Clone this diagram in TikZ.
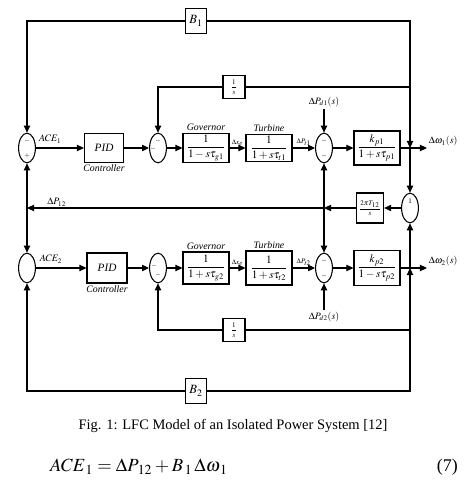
\documentclass[tikz,border=0pt]{standalone}
\usepackage{amsmath}
\usepackage{mathptmx}
\usepackage[no-math]{fontspec}
\setmainfont{Liberation Serif}
\usetikzlibrary{shapes.geometric, calc, arrows.meta, positioning}
\tikzset{
        block/.style = {draw, rectangle, font=\footnotesize,
            inner sep=1pt,
            minimum height=0.65cm,
            minimum width=1.15cm},
        intg/.style = {draw, rectangle, font=\tiny,
            inner sep=1pt,
            minimum height=0.58cm,
            minimum width=0.55cm},
        gain/.style = {draw, rectangle, font=\small,
            inner sep=1pt,
            minimum height=0.62cm,
            minimum width=0.52cm},
        sum/.style = {draw, ellipse, inner sep=0pt,
            minimum width=0.42cm,
            minimum height=0.74cm},
        sgn/.style = {font=\tiny, inner sep=0pt},
        lbl/.style = {font=\scriptsize\itshape, inner sep=1pt},
        sig/.style = {font=\scriptsize, inner sep=1pt},
        tsig/.style = {font=\tiny, inner sep=1pt},
}

\begin{document}
\begin{tikzpicture}[x=0.025cm, y=-0.025cm, line width=0.75pt,
    >={Triangle[length=5pt,width=4.5pt]}]
\useasboundingbox (0,0) rectangle (474,485);
\node [gain] (B1) at (196,21) {$B_1$};
\node [gain] (B2) at (196,391) {$B_2$};
\node [sum] (s1) at (27,148) {};
\node [block, minimum width=0.975cm, minimum height=0.725cm, label={[lbl]below:Controller}] (pid1) at (104,148) {\itshape PID};
\node [sum] (s2) at (158,148) {};
\node [block, label={[lbl]above:Governor}] (gov1) at (206,148) {$\dfrac{1}{1-s\tau_{g1}}$};
\node [block, label={[lbl]above:Turbine}] (tur1) at (269,148) {$\dfrac{1}{1+s\tau_{t1}}$};
\node [sum] (s3) at (324,148) {};
\node [block, minimum height=0.85cm] (kp1) at (377,148) {$\dfrac{k_{p1}}{1+s\tau_{p1}}$};
\node [intg] (int1) at (234,87) {$\dfrac{1}{s}$};
\node [sig] (d1) at (324,102) {$\Delta P_{d1}(s)$};
\coordinate [label={[sig]above right:$\Delta\omega_1(s)$}] (out1) at (427,148);
\coordinate (j1) at (410,148);
\coordinate (f1) at (410,87);
\node [sum] (s5) at (410,208) {};
\node [intg, minimum width=0.68cm, minimum height=0.75cm] (tie) at (370,208) {$\dfrac{2\pi T_{12}}{s}$};
\coordinate (jP) at (324,208);
\coordinate (jL) at (27,208);
\node [sum] (s6) at (27,268) {};
\node [block, minimum width=1cm, minimum height=0.75cm, label={[lbl]below:Controller}] (pid2) at (107,268) {\itshape PID};
\node [sum] (s7) at (158,268) {};
\node [block, minimum height=0.8cm, label={[lbl]above:Governor}] (gov2) at (206,268) {$\dfrac{1}{1+s\tau_{g2}}$};
\node [block, minimum height=0.85cm, label={[lbl]above:Turbine}] (tur2) at (269,268) {$\dfrac{1}{1+s\tau_{t2}}$};
\node [sum] (s4) at (324,268) {};
\node [block, minimum height=0.87cm] (kp2) at (377,268) {$\dfrac{k_{p2}}{1-s\tau_{p2}}$};
\node [intg] (int2) at (234,330) {$\dfrac{1}{s}$};
\node [sig] (d2) at (324,317) {$\Delta P_{d2}(s)$};
\coordinate [label={[sig]above right:$\Delta\omega_2(s)$}] (out2) at (427,268);
\coordinate (j2) at (410,268);
\coordinate (f2) at (410,330);
\node [sgn] (s1a) at (27,141) {$-$};
\node [sgn] (s1b) at (27,156) {$+$};
\node [sgn] (s2a) at (158,141) {$-$};
\node [sgn] (s2b) at (153,149) {$-$};
\node [sgn] (s3a) at (324,141) {$-$};
\node [sgn] (s3b) at (324,156) {$-$};
\node [sgn] (s5a) at (410,201) {1};
\node [sgn] (s7a) at (154,266) {$-$};
\node [sgn] (s7b) at (158,275) {$-$};
\node [sgn] (s4a) at (324,261) {$-$};
\node [sgn] (s4b) at (324,276) {$-$};
\draw [->] (B1) -| (s1);
\draw [->] (B1) -| (j1);
\draw [->] (s1) -- node[sig, above=2pt, pos=0.3] (ace1) {$ACE_1$} (pid1);
\draw [->] (pid1) -- (s2);
\draw [->] (s2) -- (gov1);
\draw [->] (gov1) -- node[tsig, above] (xe1) {$\Delta x_e$} (tur1);
\draw [->] (tur1) -- node[tsig, above] (pt1) {$\Delta P_{t1}$} (s3);
\draw [->] (s3) -- (kp1);
\draw [->] (kp1) -- (out1);
\draw (f1) -- (int1);
\draw [->] (int1) -| (s2);
\draw [->] (d1) -- (s3);
\draw [->] (j1) -- (s5);
\draw [->] (s5) -- (tie);
\draw [->] (tie) -- (jP);
\draw [->] (jP) -- node[sig, above, pos=0.9] (p12) {$\Delta P_{12}$} (jL);
\draw [->] (jP) -- (s3);
\draw [->] (jP) -- (s4);
\draw [->] (jL) -- (s1);
\draw [->] (jL) -- (s6);
\draw [->] (s6) -- node[sig, above=2pt, pos=0.3] (ace2) {$ACE_2$} (pid2);
\draw [->] (pid2) -- (s7);
\draw [->] (s7) -- (gov2);
\draw [->] (gov2) -- node[tsig, above] (xe2) {$\Delta x_e$} (tur2);
\draw [->] (tur2) -- node[tsig, above] (pt2) {$\Delta P_{t2}$} (s4);
\draw [->] (s4) -- (kp2);
\draw [->] (kp2) -- (out2);
\draw [->] (B2) -| (s6);
\draw [->] (B2) -| (j2);
\draw [->] (j2) -- (s5);
\draw (f2) -- (int2);
\draw [->] (int2) -| (s7);
\draw [->] (d2) -- (s4);
\node [font=\fontsize{10.3}{12}\selectfont] (cap) at (233,426) {Fig. 1: LFC Model of an Isolated Power System [12]};
\node [anchor=west, font=\fontsize{13.2}{15}\selectfont] (eq) at (45,467) {$ACE_{\,1} = \Delta P_{\,12} + B_{\,1}\,\Delta\omega_{\,1}$};
\node [anchor=east, font=\fontsize{12.7}{15}\selectfont] (eqn) at (463,467) {(7)};
\end{tikzpicture}
\end{document}
